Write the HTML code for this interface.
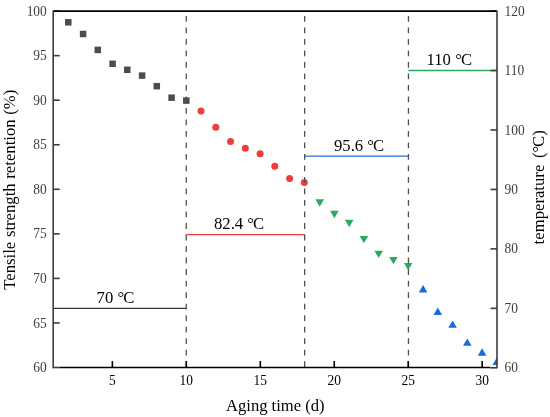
<!DOCTYPE html>
<html><head><meta charset="utf-8"><title>Aging chart</title>
<style>
html,body{margin:0;padding:0;background:#fff;}
svg{display:block;font-family:"Liberation Serif","Times New Roman",serif;}
</style></head><body>
<svg width="550" height="417" viewBox="0 0 550 417">
<rect width="550" height="417" fill="#fff"/>
<defs><clipPath id="c"><rect x="53.20" y="11.10" width="443.80" height="356.40"/></clipPath></defs>

<line x1="53.20" y1="308.35" x2="186.34" y2="308.35" stroke="#3a3a3a" stroke-width="1.4"/>
<line x1="186.34" y1="234.62" x2="304.69" y2="234.62" stroke="#f03c3a" stroke-width="1.4"/>
<line x1="304.69" y1="156.13" x2="408.24" y2="156.13" stroke="#1e6ee2" stroke-width="1.4"/>
<line x1="408.24" y1="70.51" x2="497.00" y2="70.51" stroke="#2caa62" stroke-width="1.4"/>
<g clip-path="url(#c)" transform="translate(0 0.3)">
<rect x="65.05" y="18.75" width="6.5" height="6.5" fill="#4c4c4c"/>
<rect x="79.85" y="30.45" width="6.5" height="6.5" fill="#4c4c4c"/>
<rect x="94.55" y="46.35" width="6.5" height="6.5" fill="#4c4c4c"/>
<rect x="109.35" y="60.25" width="6.5" height="6.5" fill="#4c4c4c"/>
<rect x="124.05" y="66.25" width="6.5" height="6.5" fill="#4c4c4c"/>
<rect x="138.85" y="72.05" width="6.5" height="6.5" fill="#4c4c4c"/>
<rect x="153.55" y="82.65" width="6.5" height="6.5" fill="#4c4c4c"/>
<rect x="168.35" y="94.15" width="6.5" height="6.5" fill="#4c4c4c"/>
<rect x="183.05" y="97.05" width="6.5" height="6.5" fill="#4c4c4c"/>
<circle cx="201.00" cy="110.80" r="3.5" fill="#f03c3a"/>
<circle cx="215.80" cy="126.90" r="3.5" fill="#f03c3a"/>
<circle cx="230.50" cy="141.10" r="3.5" fill="#f03c3a"/>
<circle cx="245.30" cy="147.90" r="3.5" fill="#f03c3a"/>
<circle cx="260.10" cy="153.40" r="3.5" fill="#f03c3a"/>
<circle cx="274.80" cy="166.00" r="3.5" fill="#f03c3a"/>
<circle cx="289.60" cy="178.30" r="3.5" fill="#f03c3a"/>
<circle cx="304.30" cy="182.10" r="3.5" fill="#f03c3a"/>
<path d="M315.40 199.00L324.00 199.00L319.70 206.40Z" fill="#2caa62"/>
<path d="M330.10 210.50L338.70 210.50L334.40 217.90Z" fill="#2caa62"/>
<path d="M344.90 219.50L353.50 219.50L349.20 226.90Z" fill="#2caa62"/>
<path d="M359.60 235.60L368.20 235.60L363.90 243.00Z" fill="#2caa62"/>
<path d="M374.40 250.40L383.00 250.40L378.70 257.80Z" fill="#2caa62"/>
<path d="M389.10 256.60L397.70 256.60L393.40 264.00Z" fill="#2caa62"/>
<path d="M403.90 262.60L412.50 262.60L408.20 270.00Z" fill="#2caa62"/>
<path d="M418.80 292.20L427.40 292.20L423.10 284.80Z" fill="#166ae2"/>
<path d="M433.50 314.70L442.10 314.70L437.80 307.30Z" fill="#166ae2"/>
<path d="M448.30 327.50L456.90 327.50L452.60 320.10Z" fill="#166ae2"/>
<path d="M463.00 345.50L471.60 345.50L467.30 338.10Z" fill="#166ae2"/>
<path d="M477.80 355.40L486.40 355.40L482.10 348.00Z" fill="#166ae2"/>
<path d="M492.50 364.60L501.10 364.60L496.80 357.20Z" fill="#166ae2"/>
</g>
<line x1="186.24" y1="367" x2="186.24" y2="11.10" stroke="#505050" stroke-width="1.3" stroke-dasharray="5.8 5.71"/>
<line x1="304.64" y1="367" x2="304.64" y2="11.10" stroke="#505050" stroke-width="1.3" stroke-dasharray="5.8 5.71"/>
<line x1="408.44" y1="367" x2="408.44" y2="11.10" stroke="#505050" stroke-width="1.3" stroke-dasharray="5.8 5.71"/>
<g stroke="#3c3c3c" stroke-width="1.6" fill="none">
<line x1="53.20" y1="10.40" x2="53.20" y2="368.20"/>
<line x1="497.00" y1="10.40" x2="497.00" y2="368.20"/>
<line x1="53.20" y1="367.50" x2="59.70" y2="367.50"/>
<line x1="53.20" y1="322.95" x2="59.70" y2="322.95"/>
<line x1="53.20" y1="278.40" x2="59.70" y2="278.40"/>
<line x1="53.20" y1="233.85" x2="59.70" y2="233.85"/>
<line x1="53.20" y1="189.30" x2="59.70" y2="189.30"/>
<line x1="53.20" y1="144.75" x2="59.70" y2="144.75"/>
<line x1="53.20" y1="100.20" x2="59.70" y2="100.20"/>
<line x1="53.20" y1="55.65" x2="59.70" y2="55.65"/>
<line x1="53.20" y1="11.10" x2="59.70" y2="11.10"/>
<line x1="497.00" y1="367.81" x2="490.50" y2="367.81"/>
<line x1="497.00" y1="308.35" x2="490.50" y2="308.35"/>
<line x1="497.00" y1="248.89" x2="490.50" y2="248.89"/>
<line x1="497.00" y1="189.43" x2="490.50" y2="189.43"/>
<line x1="497.00" y1="129.97" x2="490.50" y2="129.97"/>
<line x1="497.00" y1="70.51" x2="490.50" y2="70.51"/>
<line x1="497.00" y1="11.05" x2="490.50" y2="11.05"/>
</g>
<g stroke="#000" stroke-width="1.6" fill="none">
<line x1="53.90" y1="11.10" x2="496.30" y2="11.10"/>
<line x1="59.70" y1="367.50" x2="490.50" y2="367.50"/>
<line x1="112.37" y1="367.50" x2="112.37" y2="361.00"/>
<line x1="186.34" y1="367.50" x2="186.34" y2="361.00"/>
<line x1="260.31" y1="367.50" x2="260.31" y2="361.00"/>
<line x1="334.27" y1="367.50" x2="334.27" y2="361.00"/>
<line x1="408.24" y1="367.50" x2="408.24" y2="361.00"/>
<line x1="482.21" y1="367.50" x2="482.21" y2="361.00"/>
</g>
<g font-size="14" fill="#404040" text-anchor="end">
<text transform="translate(46.8 372.10) scale(0.96 1)">60</text>
<text transform="translate(46.8 327.55) scale(0.96 1)">65</text>
<text transform="translate(46.8 283.00) scale(0.96 1)">70</text>
<text transform="translate(46.8 238.45) scale(0.96 1)">75</text>
<text transform="translate(46.8 193.90) scale(0.96 1)">80</text>
<text transform="translate(46.8 149.35) scale(0.96 1)">85</text>
<text transform="translate(46.8 104.80) scale(0.96 1)">90</text>
<text transform="translate(46.8 60.25) scale(0.96 1)">95</text>
<text transform="translate(46.8 15.70) scale(0.96 1)">100</text>
</g>
<g font-size="14" fill="#404040" text-anchor="start">
<text transform="translate(504.5 372.41) scale(0.96 1)">60</text>
<text transform="translate(504.5 312.95) scale(0.96 1)">70</text>
<text transform="translate(504.5 253.49) scale(0.96 1)">80</text>
<text transform="translate(504.5 194.03) scale(0.96 1)">90</text>
<text transform="translate(504.5 134.57) scale(0.96 1)">100</text>
<text transform="translate(504.5 75.11) scale(0.96 1)">110</text>
<text transform="translate(504.5 15.65) scale(0.96 1)">120</text>
</g>
<g font-size="14" fill="#000" text-anchor="middle">
<text transform="translate(112.37 384.8) scale(0.96 1)">5</text>
<text transform="translate(186.34 384.8) scale(0.96 1)">10</text>
<text transform="translate(260.31 384.8) scale(0.96 1)">15</text>
<text transform="translate(334.27 384.8) scale(0.96 1)">20</text>
<text transform="translate(408.24 384.8) scale(0.96 1)">25</text>
<text transform="translate(482.21 384.8) scale(0.96 1)">30</text>
</g>
<text x="275.3" y="411" font-size="16.6" text-anchor="middle" fill="#000">Aging time (d)</text>
<text transform="translate(15.4 189.7) rotate(-90)" word-spacing="0.47" font-size="16.7" text-anchor="middle" fill="#000">Tensile strength retention (%)</text>
<text transform="translate(544.2 187.3) rotate(-90)" font-size="16.7" word-spacing="2.6" text-anchor="middle" fill="#000">temperature (°<tspan dx="-1.2">C</tspan>)</text>
<text x="115.50" y="302.50" font-size="16.7" text-anchor="middle" fill="#000">70 °<tspan dx="-0.9">C</tspan></text>
<text x="239.10" y="228.80" font-size="16.7" text-anchor="middle" fill="#000">82.4 °<tspan dx="-0.9">C</tspan></text>
<text x="359.10" y="150.50" font-size="16.7" text-anchor="middle" fill="#000">95.6 °<tspan dx="-0.9">C</tspan></text>
<text x="449.30" y="65.10" font-size="16.7" text-anchor="middle" fill="#000">110 °<tspan dx="-0.9">C</tspan></text>
</svg></body></html>
